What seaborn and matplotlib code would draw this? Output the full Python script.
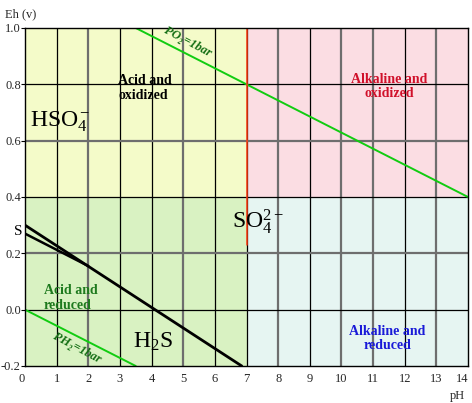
import numpy as np
import pandas as pd
import seaborn as sns
import matplotlib
matplotlib.use('Agg')
import matplotlib.pyplot as plt

# axis ticks
ph_ticks = list(range(0, 15))
eh_ticks = [-0.2, 0.0, 0.2, 0.4, 0.6, 0.8, 1.0]
eh_labels = ['-0.2', '0.0', '0.2', '0.4', '0.6', '0.8', '1.0']

# grid lines drawn darker / thicker (grey) vs thin black
grey_ph = [2, 5, 8, 10, 11, 13]
grey_eh = [0.2, 0.6]

# quadrant split
ph_split = 7
eh_split = 0.4

# boundary lines (pH, Eh)
po2_ph = [3.5, 14]
po2_eh = [1.0, 0.4]
ph2_ph = [0, 3.5]
ph2_eh = [0.0, -0.2]
h2s_ph = [0, 6.85]
h2s_eh = [0.30, -0.2]
s_ph = [0, 2.0]
s_eh = [0.27, 0.155]
so4_ph = [7, 7]
so4_eh = [1.0, 0.23]

sns.set_theme(style='white')
plt.rcParams['font.family'] = ['Liberation Serif', 'DejaVu Serif']
plt.rcParams['mathtext.fontset'] = 'custom'
plt.rcParams['mathtext.rm'] = 'Liberation Serif'
plt.rcParams['mathtext.it'] = 'Liberation Serif:italic'
plt.rcParams['mathtext.bf'] = 'Liberation Serif:bold'

fig = plt.figure(figsize=(4.72, 4.03), dpi=100)
ax = fig.add_axes([25 / 472, 37 / 403, 443 / 472, 338 / 403])

# background quadrants
ax.fill_between([0, ph_split], eh_split, 1.0, color='#f4fbc9', lw=0, zorder=0)
ax.fill_between([ph_split, 14], eh_split, 1.0, color='#fbdde3', lw=0, zorder=0)
ax.fill_between([0, ph_split], -0.2, eh_split, color='#d9f2c2', lw=0, zorder=0)
ax.fill_between([ph_split, 14], -0.2, eh_split, color='#e6f5f2', lw=0, zorder=0)

# grid
for p in ph_ticks[1:-1]:
    if p in grey_ph:
        ax.axvline(p, color='#6e6e6e', lw=1.6, zorder=1)
    else:
        ax.axvline(p, color='black', lw=0.9, zorder=1)
for e in eh_ticks[1:-1]:
    if e in grey_eh:
        ax.axhline(e, color='#6e6e6e', lw=1.6, zorder=1)
    else:
        ax.axhline(e, color='black', lw=0.9, zorder=1)

lines = pd.concat([
    pd.DataFrame({'pH': po2_ph, 'Eh': po2_eh, 'name': 'po2'}),
    pd.DataFrame({'pH': ph2_ph, 'Eh': ph2_eh, 'name': 'ph2'}),
    pd.DataFrame({'pH': h2s_ph, 'Eh': h2s_eh, 'name': 'h2s'}),
    pd.DataFrame({'pH': s_ph, 'Eh': s_eh, 'name': 's'}),
    pd.DataFrame({'pH': so4_ph, 'Eh': so4_eh, 'name': 'so4'}),
])
palette = {'po2': '#11cc11', 'ph2': '#11cc11', 'h2s': 'black', 's': 'black', 'so4': '#ff3a10'}
widths = {'po2': 1.4, 'ph2': 1.4, 'h2s': 2.0, 's': 1.8, 'so4': 1.1}
for name, d in lines.groupby('name', sort=False):
    sns.lineplot(data=d, x='pH', y='Eh', color=palette[name], lw=widths[name],
                 sort=False, estimator=None, ax=ax, zorder=3)

ax.set_xlim(0, 14)
ax.set_ylim(-0.2, 1.0)
ax.set_xticks(ph_ticks)
ax.set_xticklabels([str(p) for p in ph_ticks], fontsize=9)
ax.get_xticklabels()[0].set_ha('right')
ax.get_xticklabels()[-1].set_ha('right')
ax.set_yticks(eh_ticks)
ax.set_yticklabels(eh_labels, fontsize=9)
ax.tick_params(axis='y', length=3, width=0.8, pad=0, color='black', left=True)
ax.tick_params(axis='x', length=0, pad=5)
ax.set_xlabel('')
ax.set_ylabel('')
for s in ax.spines.values():
    s.set_color('black')
    s.set_linewidth(1.0)
    s.set_zorder(4)

# species labels
ax.text(0.15, 0.65, r'HSO$_4^-$', fontsize=17, color='black', zorder=5)
ax.text(6.55, 0.29, r'SO$_4^{2-}$', fontsize=17, color='black', zorder=5)
ax.text(3.4, -0.135, r'H$_2$S', fontsize=17, color='black', zorder=5)
ax.text(-0.2, 0.265, 'S', fontsize=11, color='black', ha='center', clip_on=False)

# region labels
ax.text(2.95, 0.748, 'Acid and\noxidized', fontsize=10, fontweight='bold',
        color='black', ha='left', linespacing=1.15, zorder=5)
ax.text(11.5, 0.755, 'Alkaline and\noxidized', fontsize=10, fontweight='bold',
        color='#d0102a', ha='center', linespacing=1.15, zorder=5)
ax.text(0.6, 0.003, 'Acid and\nreduced', fontsize=10, fontweight='bold',
        color='#1e7a1e', ha='left', linespacing=1.15, zorder=5)
ax.text(11.45, -0.14, 'Alkaline and\nreduced', fontsize=10, fontweight='bold',
        color='#1a1ad8', ha='center', linespacing=1.15, zorder=5)

# gas lines labels
ax.text(5.15, 0.95, 'PO\u2082=1bar', fontsize=9, fontweight='bold', style='italic',
        color='#146e14', rotation=-28, ha='center', va='center', zorder=5)
ax.text(1.65, -0.135, 'PH\u2082=1bar', fontsize=9, fontweight='bold', style='italic',
        color='#146e14', rotation=-28, ha='center', va='center', zorder=5)

# axis titles
fig.text(5 / 472, 1 - 14 / 403, 'Eh (v)', fontsize=9, va='center', ha='left')
fig.text(465 / 472, 1 - 396 / 403, 'pH', fontsize=9, va='center', ha='right')

fig.savefig('out.png', dpi=100)
plt.close(fig)
